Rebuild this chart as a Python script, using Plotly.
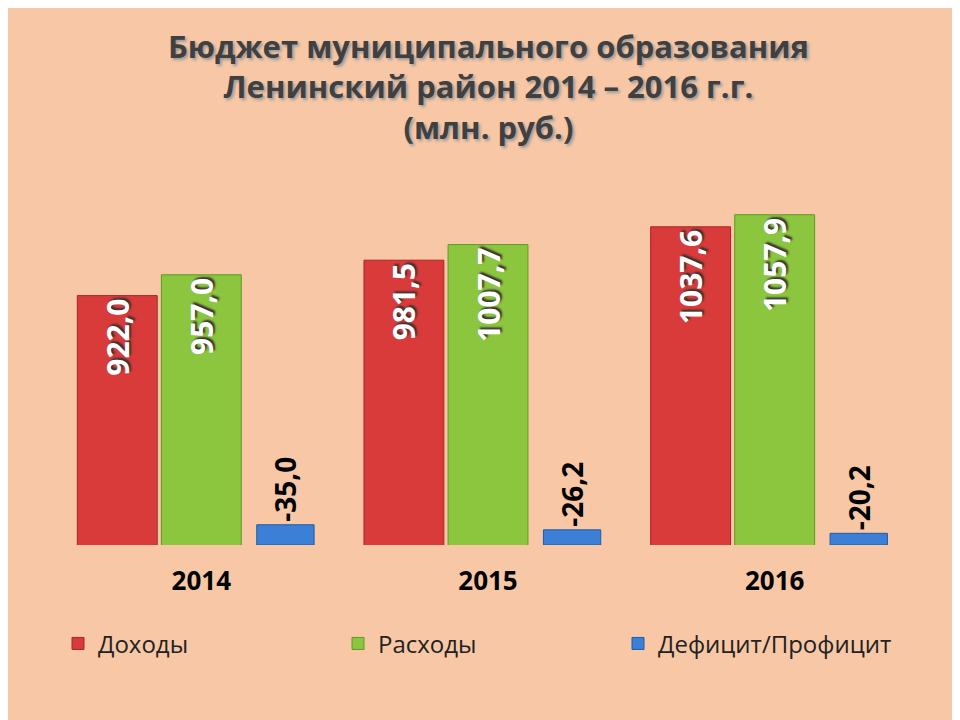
import plotly.graph_objects as go

years = ["2014", "2015", "2016"]
income = [922.0, 981.5, 1037.6]
expense = [957.0, 1007.7, 1057.9]
deficit = [-35.0, -26.2, -20.2]


def fmt(v):
    return f"{v:.1f}".replace(".", ",")


label_font = dict(color="white", size=30, family="Open Sans", weight="bold", shadow="2px 2px 2px #333")

fig = go.Figure()
fig.add_trace(go.Bar(
    x=years, y=income, name="Доходы", offsetgroup="a",
    marker=dict(color="#d93a3a", line=dict(color="#a82626", width=1)),
    text=[fmt(v) for v in income], textposition="inside", insidetextanchor="end",
    textangle=-90, textfont=label_font,
))
fig.add_trace(go.Bar(
    x=years, y=expense, name="Расходы", offsetgroup="b",
    marker=dict(color="#8cc63f", line=dict(color="#5e9a24", width=1)),
    text=[fmt(v) for v in expense], textposition="inside", insidetextanchor="end",
    textangle=-90, textfont=label_font,
))
fig.add_trace(go.Bar(
    x=years, y=[abs(v) for v in deficit], name="Дефицит/Профицит", offsetgroup="c",
    yaxis="y2", width=0.2,
    marker=dict(color="#3c7fd6", line=dict(color="#1f5aa8", width=1)),
    text=[fmt(v) for v in deficit], textposition="outside", constraintext="none",
    textangle=-90, textfont=dict(color="black", size=28, family="Open Sans", weight="bold"),
    cliponaxis=False,
))

fig.add_annotation(
    text="Бюджет муниципального образования<br>Ленинский район 2014 – 2016 г.г.<br>(млн. руб.)",
    xref="paper", yref="paper", x=0.5, y=1.0, yshift=175, xanchor="center", yanchor="top",
    showarrow=False,
    font=dict(size=31, color="#404040", family="Open Sans", weight="bold", shadow="2px 2px 3px #999"),
)

fig.update_layout(
    width=960, height=720,
    paper_bgcolor="#f8c8a6", plot_bgcolor="rgba(0,0,0,0)",
    margin=dict(l=50, r=50, t=190, b=183),
    barmode="group", bargap=0.12, bargroupgap=0.05,
    xaxis=dict(showgrid=False, showline=False, ticks="",
               tickfont=dict(size=26, color="black", family="Open Sans", weight="bold"), ticklabelstandoff=18),
    yaxis=dict(range=[503, 1086], visible=False),
    yaxis2=dict(range=[0, 600], overlaying="y", visible=False),
    legend=dict(orientation="h", x=0.0, y=-0.22, xanchor="left", yanchor="top",
                entrywidth=235, font=dict(size=24, color="#222", family="Open Sans")),
    showlegend=True,
)

fig.write_html("out.html")
